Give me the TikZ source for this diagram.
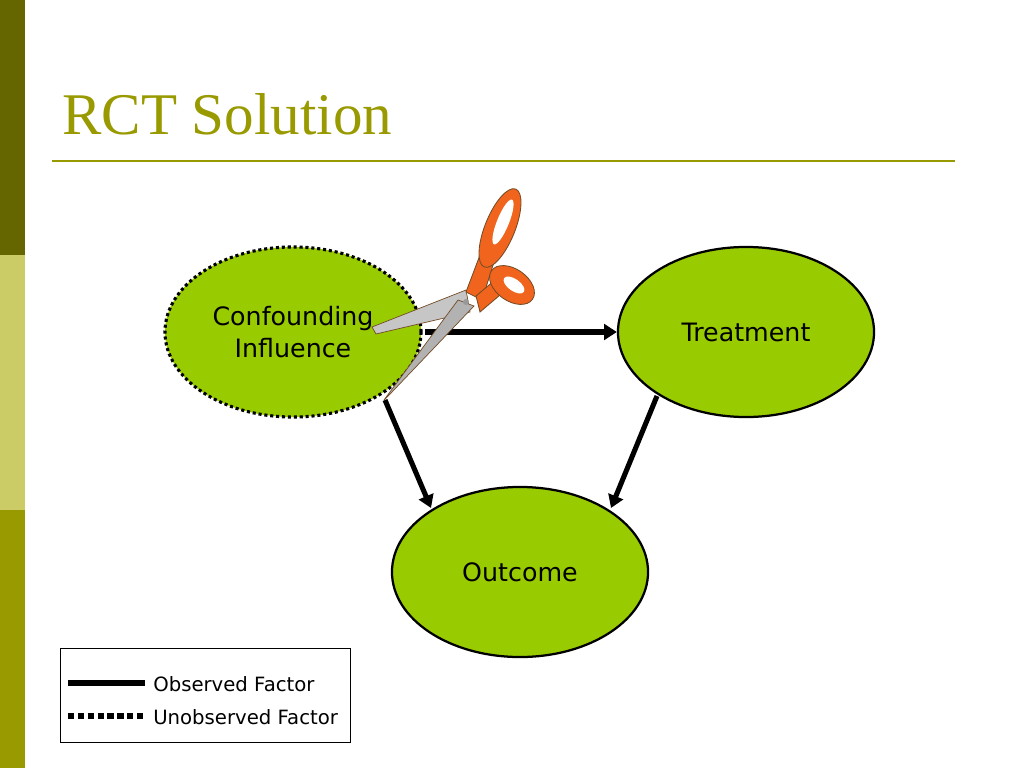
\documentclass[tikz,border=0pt]{standalone}
\usepackage{fontspec}
\setmainfont{DejaVu Sans}
\newfontfamily\titlefont{Liberation Serif}
\usetikzlibrary{shapes.geometric,arrows.meta}
\begin{document}
\begin{tikzpicture}[x=0.025cm,y=-0.025cm]

% definitions
\definecolor{olive}{RGB}{153,153,0}
\definecolor{darkolive}{RGB}{102,102,0}
\definecolor{paleolive}{RGB}{204,204,102}
\definecolor{leaf}{RGB}{153,204,0}
\definecolor{handle}{RGB}{240,100,30}
\tikzstyle{factor} = [ellipse, minimum width=6.4cm, minimum height=4.25cm, draw=black, fill=leaf, line width=1.6pt, align=center, font=\fontsize{18}{23}\selectfont]
\tikzstyle{hidden} = [factor, line width=2.2pt, dotted]
\tikzstyle{arrow} = [-{Triangle[length=9pt,width=11pt]}, line width=3.6pt]
\tikzstyle{legendline} = [line width=3.6pt]

\useasboundingbox (0,0) rectangle (1024,768);

% side bar and title
\fill[darkolive] (0,0) rectangle (25,255);
\fill[paleolive] (0,255) rectangle (25,510);
\fill[olive] (0,510) rectangle (25,768);
\node (title) [anchor=base west, text=olive, inner sep=0pt] at (62,135) {\titlefont\fontsize{42}{46}\selectfont RCT Solution};
\draw[olive, line width=1.5pt] (52,161) -- (955,161);

% the graph
\node (conf) [hidden] at (293,332) {Confounding\\Influence};
\node (treat) [factor] at (746,332) {Treatment};
\node (out) [factor] at (520,572) {Outcome};
\coordinate (cut) at (425,332);
\coordinate (conflow) at (385,400);
\coordinate (treatflow) at (657,396);
\coordinate (outleft) at (431,508);
\coordinate (outright) at (611,508);

\draw [arrow] (cut) -- (treat);
\draw [arrow] (conflow) -- (outleft);
\draw [arrow] (treatflow) -- (outright);

% scissors
\fill[gray!45, draw=brown!60!black, line width=0.5pt] (466,290) -- (372,327) -- (376,334) -- (470,312) -- cycle;
\fill[gray!60, draw=brown!60!black, line width=0.5pt] (458,300) -- (474,306) -- (392,392) -- (384,400) -- cycle;
\fill[handle, draw=brown!60!black, line width=0.6pt] (466,292) -- (480,255) -- (494,262) -- (482,300) -- cycle;
\fill[handle, draw=brown!60!black, line width=0.6pt, rotate around={68:(500,228)}] (500,228) ellipse (42 and 15);
\fill[white, rotate around={68:(503,222)}] (503,222) ellipse (24 and 6);
\fill[handle, draw=brown!60!black, line width=0.6pt] (476,296) -- (495,280) -- (500,295) -- (480,312) -- cycle;
\fill[handle, draw=brown!60!black, line width=0.6pt, rotate around={-35:(512,285)}] (512,285) ellipse (25 and 16);
\fill[white, rotate around={-35:(514,285)}] (514,285) ellipse (12 and 6);
\fill[gray!80] (466,302) circle (3);

% legend
\node (legend) [draw=black, line width=0.6pt, minimum width=7.25cm, minimum height=2.35cm, anchor=north west] at (60,648) {};
\coordinate (s1) at (68,683); \coordinate (s2) at (145,683);
\coordinate (d1) at (68,716); \coordinate (d2) at (145,716);
\draw [legendline] (s1) -- (s2);
\draw [legendline, dash pattern=on 4.5pt off 2.5pt] (d1) -- (d2);
\node (obs) [anchor=west, font=\fontsize{14}{16}\selectfont, inner sep=0pt] at (153,684) {Observed Factor};
\node (unobs) [anchor=west, font=\fontsize{14}{16}\selectfont, inner sep=0pt] at (153,717) {Unobserved Factor};

\end{tikzpicture}
\end{document}
